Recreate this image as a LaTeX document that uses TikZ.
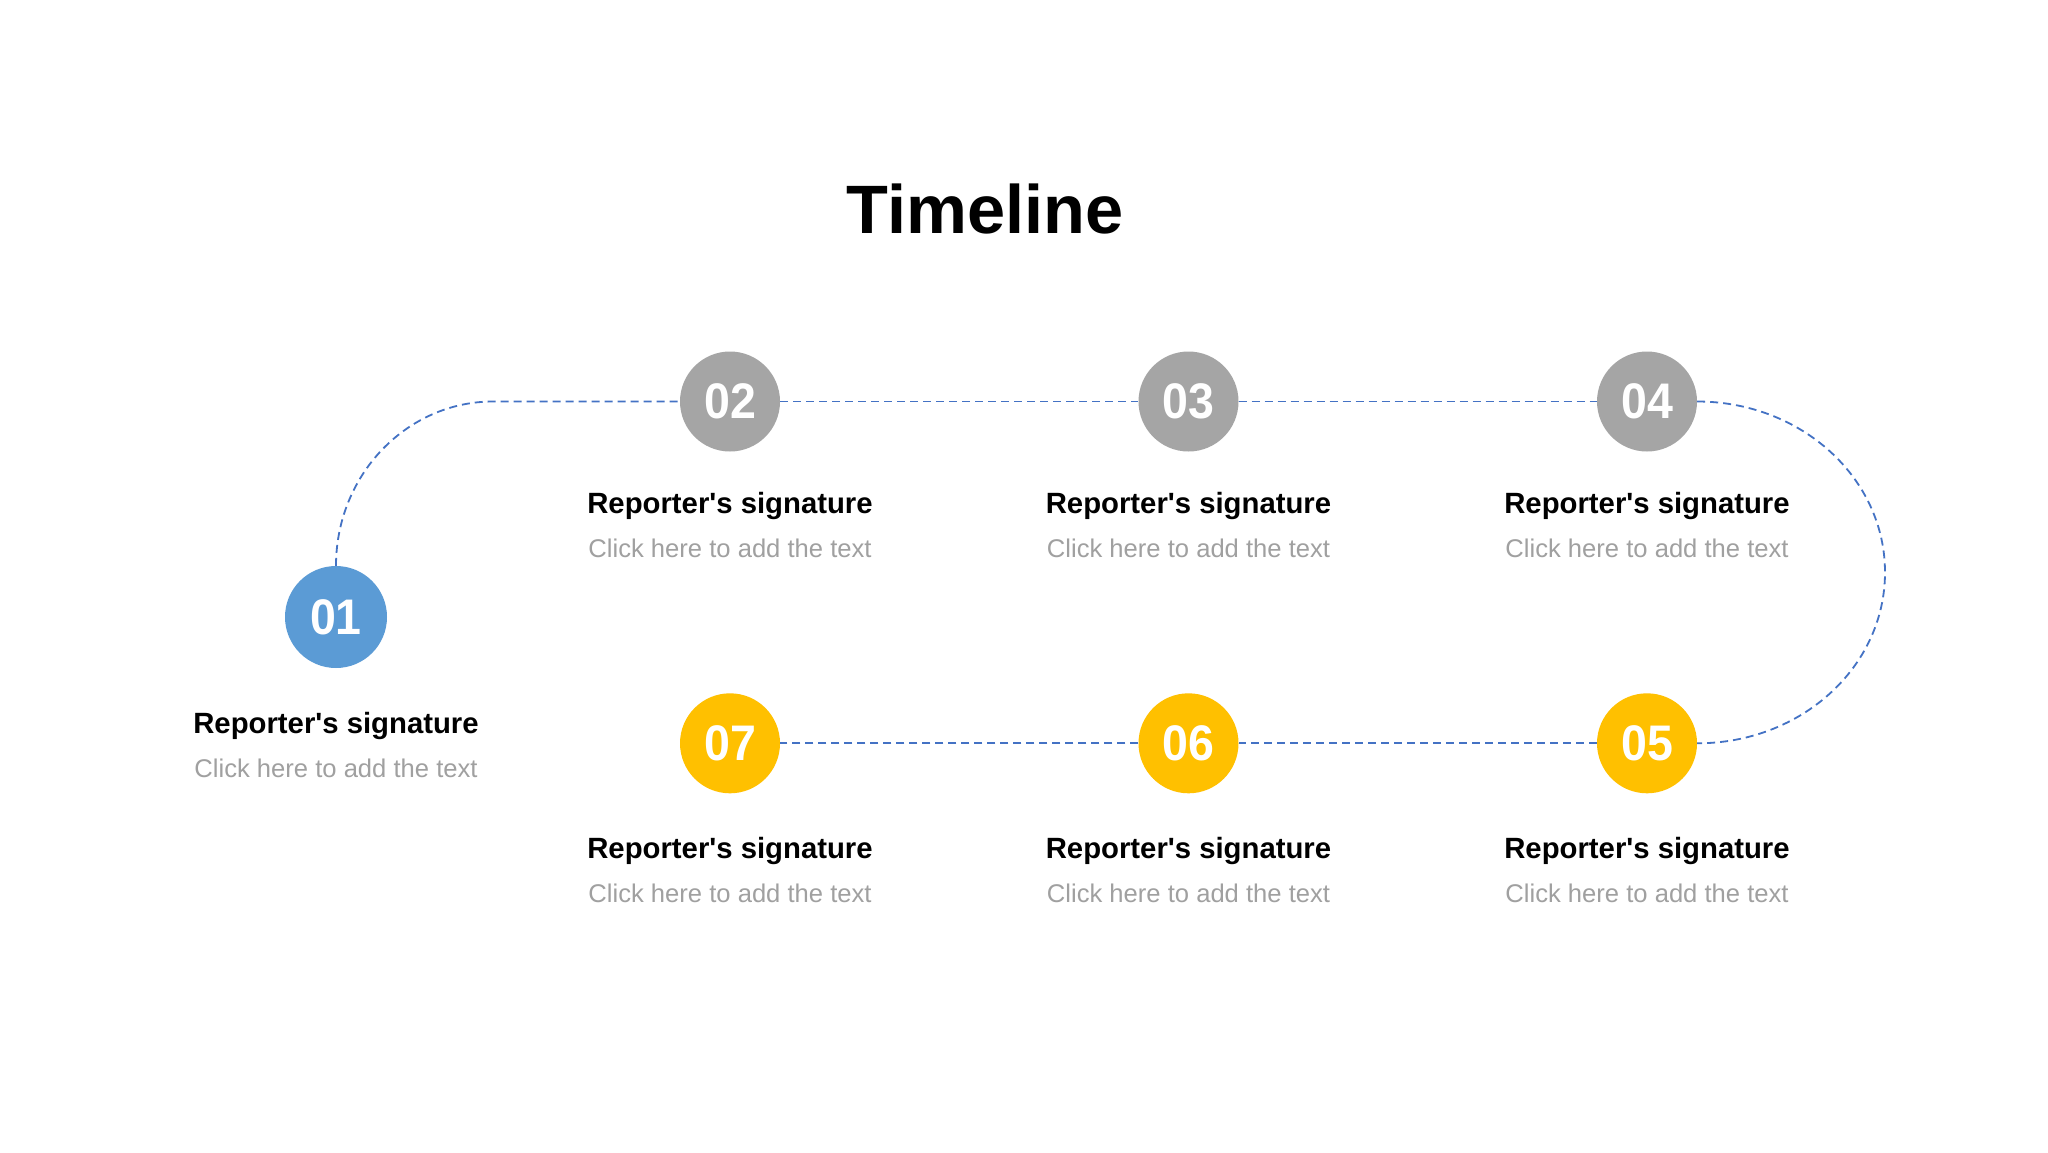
\documentclass[tikz,border=0pt]{standalone}
\usepackage{fontspec}
\setmainfont{Liberation Sans}
\newfontfamily\numfont[FakeStretch=0.93]{Liberation Sans}
\definecolor{lineblue}{HTML}{4472C4}
\definecolor{cblue}{HTML}{5B9BD5}
\definecolor{cgray}{HTML}{A5A5A5}
\definecolor{cyellow}{HTML}{FFC000}
\definecolor{subgray}{HTML}{A0A0A0}
\newcommand{\repsig}{Reporter\textquotesingle s signature}
\begin{document}
\begin{tikzpicture}[x=1pt,y=-1pt,
  stepcircle/.style={circle, minimum size=100pt, inner sep=0pt, text=white,
    font=\numfont\bfseries\fontsize{50}{50}\selectfont},
  conn/.style={draw=lineblue, line width=1.8pt, dash pattern=on 8pt off 5pt},
  head/.style={anchor=base, font=\bfseries\fontsize{29.3}{34}\selectfont},
  sub/.style={anchor=base, text=subgray, font=\fontsize{25.6}{30}\selectfont}]
\path[use as bounding box, fill=white] (0,0) rectangle (2048,1152);

\node[anchor=base, font=\bfseries\fontsize{68.5}{80}\selectfont] (title) at (985,233) {Timeline};

\node[stepcircle, fill=cblue, minimum size=102pt] (c01) at (336,617) {01};
\node[stepcircle, fill=cgray] (c02) at (730,401.5) {02};
\node[stepcircle, fill=cgray] (c03) at (1188.5,401.5) {03};
\node[stepcircle, fill=cgray] (c04) at (1647,401.5) {04};
\node[stepcircle, fill=cyellow] (c05) at (1647,743.3) {05};
\node[stepcircle, fill=cyellow] (c06) at (1188.5,743.3) {06};
\node[stepcircle, fill=cyellow] (c07) at (730,743.3) {07};

\coordinate (k1) at (493,401.5);
\coordinate (k2) at (1885,572.4);
\draw[conn] (c01.north) .. controls +(0,-91) and +(-86,0) .. (k1) -- (c02.west);
\draw[conn] (c02.east) -- (c03.west);
\draw[conn] (c03.east) -- (c04.west);
\draw[conn] (c04.east) .. controls +(104,0) and +(0,-94.5) .. (k2)
                       .. controls +(0,94.5) and +(104,0) .. (c05.east);
\draw[conn] (c05.west) -- (c06.east);
\draw[conn] (c06.west) -- (c07.east);

\node[head] (h01) at (336,733.3) {\repsig};
\node[sub] (s01) at (336,777.3) {Click here to add the text};
\node[head] (h02) at (730,513.3) {\repsig};
\node[sub] (s02) at (730,557.3) {Click here to add the text};
\node[head] (h03) at (1188.5,513.3) {\repsig};
\node[sub] (s03) at (1188.5,557.3) {Click here to add the text};
\node[head] (h04) at (1647,513.3) {\repsig};
\node[sub] (s04) at (1647,557.3) {Click here to add the text};
\node[head] (h05) at (1647,858.2) {\repsig};
\node[sub] (s05) at (1647,902.2) {Click here to add the text};
\node[head] (h06) at (1188.5,858.2) {\repsig};
\node[sub] (s06) at (1188.5,902.2) {Click here to add the text};
\node[head] (h07) at (730,858.2) {\repsig};
\node[sub] (s07) at (730,902.2) {Click here to add the text};
\end{tikzpicture}
\end{document}
